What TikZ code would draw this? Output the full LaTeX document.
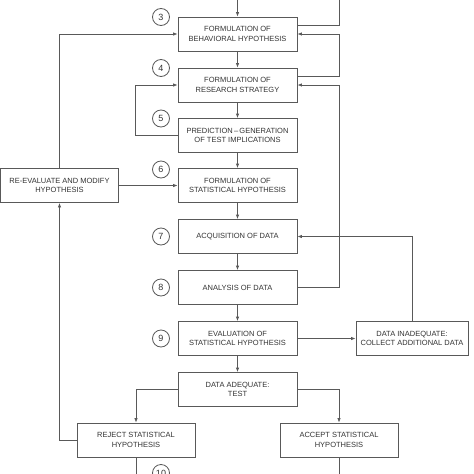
\documentclass[tikz,border=0pt]{standalone}
\usepackage{fontspec}
\setmainfont{Liberation Sans}
\usetikzlibrary{arrows.meta}
\definecolor{linegray}{gray}{0.35}
\definecolor{textgray}{gray}{0.2}
\tikzset{
  stepbox/.style={draw=linegray, line width=0.8pt, minimum width=119pt,
    minimum height=34pt, inner sep=0pt, align=center, text=textgray,
    font=\fontsize{7.5}{9.3}\selectfont},
  num/.style={draw=linegray, circle, line width=0.8pt, minimum size=17pt,
    inner sep=0pt, text=textgray, font=\fontsize{9}{9}\selectfont},
  flow/.style={draw=linegray, line width=0.8pt,
    -{Latex[length=4.5pt,width=3.5pt]}},
  link/.style={draw=linegray, line width=0.8pt}
}

\begin{document}
\begin{tikzpicture}[x=1pt, y=-1pt]
        \useasboundingbox (0,0) rectangle (474,474);

        % main column
        \node [stepbox] (b3) at (237.5,34) {FORMULATION OF\\BEHAVIORAL HYPOTHESIS};
        \node [stepbox] (b4) at (237.5,85) {FORMULATION OF\\RESEARCH STRATEGY};
        \node [stepbox] (b5) at (237.5,135.5) {PREDICTION\,--\,GENERATION\\OF TEST IMPLICATIONS};
        \node [stepbox] (b6) at (237.5,185.5) {FORMULATION OF\\STATISTICAL HYPOTHESIS};
        \node [stepbox] (b7) at (237.5,236.5) {ACQUISITION OF DATA};
        \node [stepbox] (b8) at (237.5,287.5) {ANALYSIS OF DATA};
        \node [stepbox] (b9) at (237.5,338.5) {EVALUATION OF\\STATISTICAL HYPOTHESIS};
        \node [stepbox] (adeq) at (237.5,389.5) {DATA ADEQUATE:\\TEST};

        % side boxes
        \node [stepbox, minimum width=118pt] (reeval) at (59.5,185.5)
          {RE-EVALUATE AND MODIFY\\HYPOTHESIS};
        \node [stepbox, minimum width=112pt] (inadeq) at (412,338.5)
          {DATA INADEQUATE:\\COLLECT ADDITIONAL DATA};
        \node [stepbox, minimum width=118pt] (reject) at (136,440)
          {REJECT STATISTICAL\\HYPOTHESIS};
        \node [stepbox, minimum width=118pt] (accept) at (339,440)
          {ACCEPT STATISTICAL\\HYPOTHESIS};

        % step numbers
        \node [num] (n3) at (161,17) {3};
        \node [num] (n4) at (161,68) {4};
        \node [num] (n5) at (161,118.5) {5};
        \node [num] (n6) at (161,169.5) {6};
        \node [num] (n7) at (161,236.5) {7};
        \node [num] (n8) at (161,287.5) {8};
        \node [num] (n9) at (161,338.5) {9};
        \node [num] (n10) at (161,473) {10};

        % free ends at the frame
        \coordinate (intop) at (237.5,0);
        \coordinate (outtop) at (339,0);
        \coordinate (rejend) at (136,474);
        \coordinate (accend) at (339,474);

        % downward flow
        \draw [flow] (intop) -- (b3);
        \draw [flow] (b3) -- (b4);
        \draw [flow] (b4) -- (b5);
        \draw [flow] (b5) -- (b6);
        \draw [flow] (b6) -- (b7);
        \draw [flow] (b7) -- (b8);
        \draw [flow] (b8) -- (b9);
        \draw [flow] (b9) -- (adeq);
        \draw [flow] (b9) -- (inadeq);
        \draw [flow] (adeq.west) -| (reject.north);
        \draw [flow] (adeq.east) -| (accept.north);
        \draw [link] (reject.south) -- (rejend);
        \draw [link] (accept.south) -- (accend);

        % feedback loops
        \draw [link] ([yshift=9pt]b3.east) -| (outtop);
        \draw [flow] ([yshift=9pt]b4.east) -- ++(42,0) |- (b3.east);
        \draw [flow] (b8.east) -- ++(42,0) |- (b4.east);
        \draw [flow] (b5.west) -- ++(-42,0) |- (b4.west);
        \draw [flow] (inadeq.north) |- (b7.east);
        \draw [flow] (reeval.north) |- (b3.west);
        \draw [flow] (reeval) -- (b6);
        \draw [flow] (reject.west) -| (reeval.south);

\end{tikzpicture}
\end{document}
